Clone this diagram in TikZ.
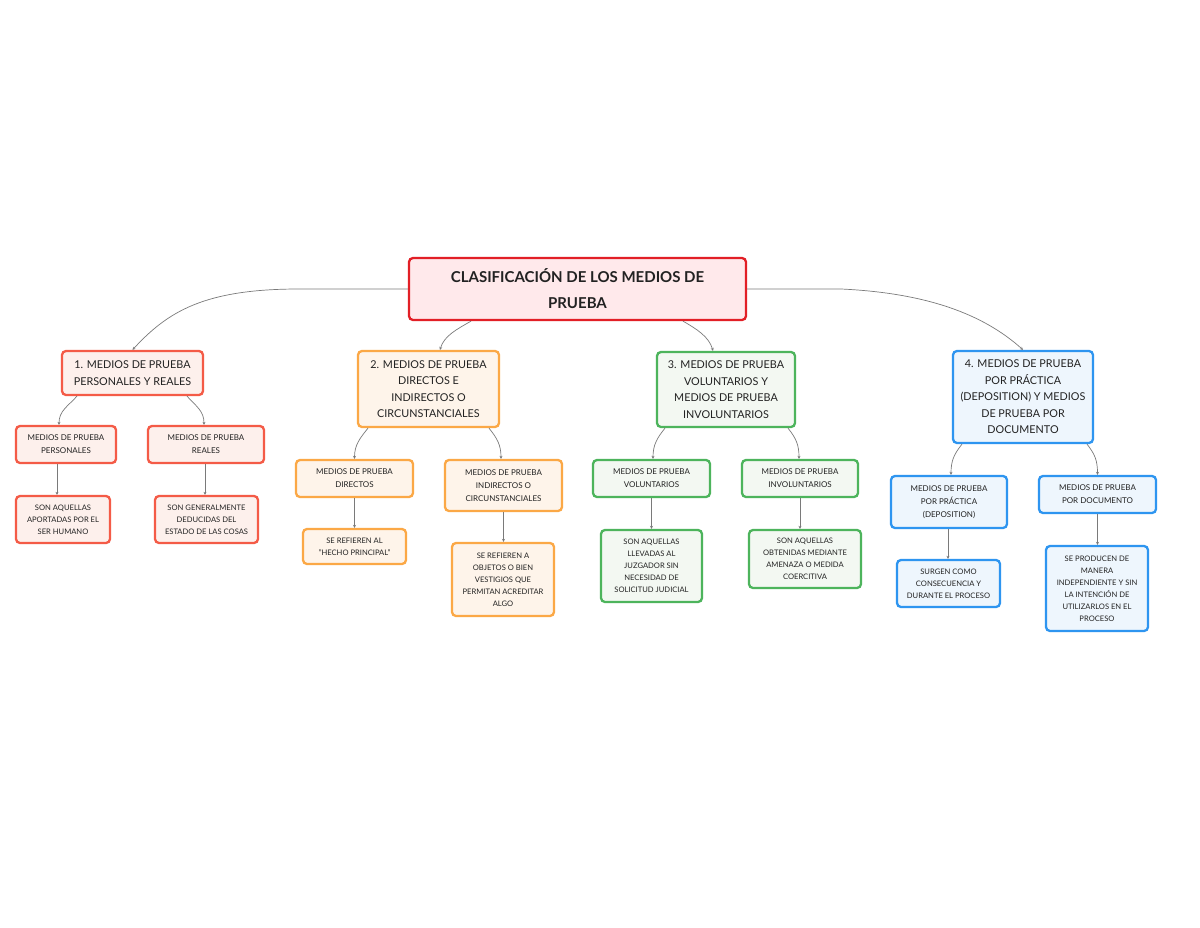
\documentclass[tikz,border=0pt]{standalone}
\usepackage{fontspec}
\setmainfont{Lato}
\usetikzlibrary{arrows.meta,calc}
\definecolor{rootB}{HTML}{E21F26}
\definecolor{rootF}{HTML}{FFE9EB}
\definecolor{oneB}{HTML}{F45B47}
\definecolor{oneF}{HTML}{FDF0EC}
\definecolor{twoB}{HTML}{FBA846}
\definecolor{twoF}{HTML}{FEF4EA}
\definecolor{thrB}{HTML}{4DB45C}
\definecolor{thrF}{HTML}{F3F8F2}
\definecolor{fouB}{HTML}{2E95F0}
\definecolor{fouF}{HTML}{EEF6FD}
\definecolor{txt}{HTML}{222222}
\definecolor{wire}{HTML}{7A7A7A}
\tikzset{
  box/.style={rectangle, rounded corners=4pt, line width=2.3pt, inner sep=0pt, align=center, text=txt},
  rootbox/.style={box, draw=rootB, fill=rootF, font=\fontsize{15}{26}\selectfont\bfseries},
  lvone/.style={box, font=\fontsize{10.8}{16.5}\selectfont},
  lvtwo/.style={box, font=\fontsize{8}{13}\selectfont},
  lvdet/.style={box, font=\fontsize{7.6}{12}\selectfont},
  cA/.style={draw=oneB, fill=oneF},
  cB/.style={draw=twoB, fill=twoF},
  cC/.style={draw=thrB, fill=thrF},
  cD/.style={draw=fouB, fill=fouF},
  wirestyle/.style={draw=wire, line width=0.7pt, -{Stealth[length=3pt,width=3pt]}},
}
\begin{document}
\begin{tikzpicture}[x=1pt,y=-1pt]
\useasboundingbox[fill=white] (0,0) rectangle (1200,927);

% root
\node[rootbox, minimum width=337pt, minimum height=62pt] (root) at (577.5,289) {CLASIFICACIÓN DE LOS MEDIOS DE\\PRUEBA};

% level 1
\node[lvone, cA, minimum width=141pt, minimum height=44pt] (n1) at (132.5,373) {1. MEDIOS DE PRUEBA\\PERSONALES Y REALES};
\node[lvone, cB, minimum width=141pt, minimum height=76pt] (n2) at (428.5,389) {2. MEDIOS DE PRUEBA\\DIRECTOS E\\INDIRECTOS O\\CIRCUNSTANCIALES};
\node[lvone, cC, minimum width=138pt, minimum height=75pt] (n3) at (726,389.5) {3. MEDIOS DE PRUEBA\\VOLUNTARIOS Y\\MEDIOS DE PRUEBA\\INVOLUNTARIOS};
\node[lvone, cD, minimum width=140pt, minimum height=92pt] (n4) at (1023,397) {4. MEDIOS DE PRUEBA\\POR PRÁCTICA\\(DEPOSITION) Y MEDIOS\\DE PRUEBA POR\\DOCUMENTO};

% level 2
\node[lvtwo, cA, minimum width=100pt, minimum height=37pt] (n1a) at (66,444.5) {MEDIOS DE PRUEBA\\PERSONALES};
\node[lvtwo, cA, minimum width=116pt, minimum height=37pt] (n1b) at (206,444.5) {MEDIOS DE PRUEBA\\REALES};
\node[lvtwo, cB, minimum width=117pt, minimum height=37pt] (n2a) at (354.5,478.5) {MEDIOS DE PRUEBA\\DIRECTOS};
\node[lvtwo, cB, minimum width=117pt, minimum height=51pt] (n2b) at (503.5,485.5) {MEDIOS DE PRUEBA\\INDIRECTOS O\\CIRCUNSTANCIALES};
\node[lvtwo, cC, minimum width=117pt, minimum height=37pt] (n3a) at (651.5,478.5) {MEDIOS DE PRUEBA\\VOLUNTARIOS};
\node[lvtwo, cC, minimum width=116pt, minimum height=37pt] (n3b) at (800,478.5) {MEDIOS DE PRUEBA\\INVOLUNTARIOS};
\node[lvtwo, cD, minimum width=116pt, minimum height=52pt] (n4a) at (949,502) {MEDIOS DE PRUEBA\\POR PRÁCTICA\\(DEPOSITION)};
\node[lvtwo, cD, minimum width=117pt, minimum height=37pt] (n4b) at (1097.5,494.5) {MEDIOS DE PRUEBA\\POR DOCUMENTO};

% details
\node[lvdet, cA, minimum width=94pt, minimum height=47pt] (d1a) at (63,519.5) {SON AQUELLAS\\APORTADAS POR EL\\SER HUMANO};
\node[lvdet, cA, minimum width=103pt, minimum height=47pt] (d1b) at (206.5,519.5) {SON GENERALMENTE\\DEDUCIDAS DEL\\ESTADO DE LAS COSAS};
\node[lvdet, cB, minimum width=103pt, minimum height=35pt] (d2a) at (354.5,546.5) {SE REFIEREN AL\\"HECHO PRINCIPAL"};
\node[lvdet, cB, minimum width=102pt, minimum height=73pt] (d2b) at (503,579.5) {SE REFIEREN A\\OBJETOS O BIEN\\VESTIGIOS QUE\\PERMITAN ACREDITAR\\ALGO};
\node[lvdet, cC, minimum width=101pt, minimum height=72pt] (d3a) at (651.5,566) {SON AQUELLAS\\LLEVADAS AL\\JUZGADOR SIN\\NECESIDAD DE\\SOLICITUD JUDICIAL};
\node[lvdet, cC, minimum width=112pt, minimum height=58pt] (d3b) at (805,559) {SON AQUELLAS\\OBTENIDAS MEDIANTE\\AMENAZA O MEDIDA\\COERCITIVA};
\node[lvdet, cD, minimum width=103pt, minimum height=47pt] (d4a) at (948.5,583.5) {SURGEN COMO\\CONSECUENCIA Y\\DURANTE EL PROCESO};
\node[lvdet, cD, minimum width=102pt, minimum height=85pt] (d4b) at (1097,588.5) {SE PRODUCEN DE\\MANERA\\INDEPENDIENTE Y SIN\\LA INTENCIÓN DE\\UTILIZARLOS EN EL\\PROCESO};

% root connectors
\draw[wirestyle] (root.west) -- ++(-109,0) .. controls +(-95,0) and +(35,-38) .. (n1.north);
\draw[wirestyle] (root.east) -- ++(94,0) .. controls +(85,4) and +(-40,-36) .. (n4.north);
\draw[wirestyle] ([xshift=-106.5pt]root.south) .. controls +(-14,8) and +(4,-14) .. ([xshift=11.5pt]n2.north);
\draw[wirestyle] ([xshift=105.5pt]root.south) .. controls +(14,8) and +(-4,-14) .. ([xshift=-13pt]n3.north);

% level 1 -> level 2
\draw[wirestyle] ([xshift=-55.5pt]n1.south) .. controls +(-9,10) and +(0,-14) .. ([xshift=-7pt]n1a.north);
\draw[wirestyle] ([xshift=54.5pt]n1.south) .. controls +(9,10) and +(0,-14) .. ([xshift=-2pt]n1b.north);
\draw[wirestyle] ([xshift=-60.5pt]n2.south) .. controls +(-8,10) and +(0,-14) .. (n2a.north);
\draw[wirestyle] ([xshift=60.5pt]n2.south) .. controls +(8,10) and +(0,-14) .. ([xshift=-2.5pt]n2b.north);
\draw[wirestyle] ([xshift=-61pt]n3.south) .. controls +(-8,10) and +(0,-14) .. ([xshift=1.5pt]n3a.north);
\draw[wirestyle] ([xshift=62pt]n3.south) .. controls +(8,10) and +(0,-14) .. ([xshift=-1pt]n3b.north);
\draw[wirestyle] ([xshift=-61pt]n4.south) .. controls +(-8,10) and +(0,-14) .. ([xshift=2pt]n4a.north);
\draw[wirestyle] ([xshift=64pt]n4.south) .. controls +(8,10) and +(0,-14) .. (n4b.north);

% level 2 -> details
\draw[wirestyle] ([xshift=-9pt]n1a.south) -- ([xshift=-9pt]n1a.south |- d1a.north);
\draw[wirestyle] ([xshift=-1pt]n1b.south) -- ([xshift=-1pt]n1b.south |- d1b.north);
\draw[wirestyle] (n2a.south) -- (n2a.south |- d2a.north);
\draw[wirestyle] (n2b.south) -- (n2b.south |- d2b.north);
\draw[wirestyle] (n3a.south) -- (n3a.south |- d3a.north);
\draw[wirestyle] (n3b.south) -- (n3b.south |- d3b.north);
\draw[wirestyle] ([xshift=-1pt]n4a.south) -- ([xshift=-1pt]n4a.south |- d4a.north);
\draw[wirestyle] (n4b.south) -- (n4b.south |- d4b.north);
\end{tikzpicture}
\end{document}
